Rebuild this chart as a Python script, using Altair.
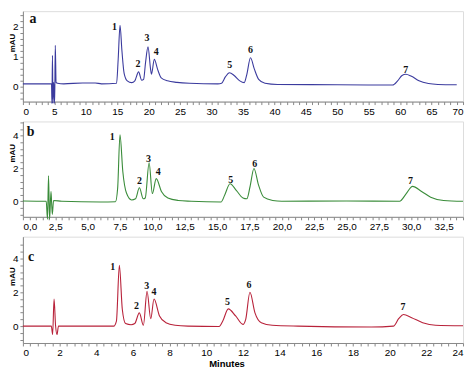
import altair as alt
import pandas as pd

# ---------------- data ----------------
# Panel a (blue), minutes / mAU
a_t = [0, 4.0, 4.55, 4.62, 4.7, 4.78, 4.9, 5.05, 5.15, 5.28, 5.5, 6.5, 9.5, 11.5, 12.5,
       14.9, 15.15, 15.45, 15.75, 16.1, 16.6, 17.3, 17.8, 18.4, 18.9, 19.2, 19.5, 19.9,
       20.3, 20.45, 20.9, 21.4, 22.0, 23.0, 24.5, 26.5, 31.0, 31.6, 32.2, 32.85, 33.6,
       34.5, 35.2, 35.6, 36.2, 36.8, 37.5, 38.5, 40.5, 50, 58.8, 59.6, 60.3, 60.9, 61.8,
       63.0, 64.5, 66.0, 69.0]
a_v = [0.1, 0.1, 0.1, -0.55, 1.05, -0.55, 0.15, -0.55, 1.38, 0.15, 0.12, 0.1, 0.13, 0.13, 0.1,
       0.12, 0.9, 2.05, 1.2, 0.45, 0.2, 0.14, 0.2, 0.5, 0.22, 0.25, 0.8, 1.33,
       0.6, 0.42, 0.92, 0.6, 0.3, 0.2, 0.15, 0.12, 0.1, 0.12, 0.33, 0.47, 0.38,
       0.2, 0.14, 0.4, 0.97, 0.6, 0.25, 0.12, 0.08, 0.07, 0.06, 0.2, 0.38, 0.42, 0.35,
       0.2, 0.11, 0.08, 0.07]

# Panel b (green)
b_t = [0, 1.8, 1.9, 1.98, 2.06, 2.17, 2.27, 2.37, 3.0, 6.0, 7.15, 7.32, 7.5, 7.72, 8.0,
       8.4, 8.7, 9.0, 9.3, 9.45, 9.75, 10.0, 10.3, 10.7, 11.2, 12.0, 13.0, 15.3, 15.6,
       16.0, 16.5, 17.0, 17.3, 17.55, 17.85, 18.2, 18.6, 19.3, 20.0, 25.0, 29.1, 29.6,
       30.1, 30.8, 31.5, 32.5, 34.0]
b_v = [0.02, 0.0, -1.1, 1.55, -1.1, 0.6, -0.8, 0.05, 0.0, -0.05, -0.03, 0.8, 4.05, 1.8, 0.5,
       0.08, 0.15, 0.82, 0.15, 0.2, 2.35, 0.47, 1.38, 0.6, 0.2, 0.05, 0.0, -0.05, 0.4,
       1.07, 0.65, 0.2, 0.15, 0.9, 2.0, 1.0, 0.25, 0.05, 0.0, 0.02, 0.0, 0.45,
       0.91, 0.6, 0.25, 0.05, 0.0]

# Panel c (red)
c_t = [0, 1.55, 1.62, 1.7, 1.78, 1.86, 1.94, 3.0, 4.95, 5.1, 5.26, 5.42, 5.6, 5.9, 6.1,
       6.35, 6.57, 6.77, 6.97, 7.15, 7.45, 7.8, 8.3, 9.0, 10.7, 10.9, 11.2, 11.6, 12.0,
       12.15, 12.38, 12.65, 13.0, 13.6, 15.0, 19.0, 20.2, 20.5, 20.75, 21.2, 21.8, 22.5, 24.0]
c_v = [0.0, 0.0, -0.5, 1.6, 0.05, -0.5, 0.0, 0.0, 0.0, 0.3, 3.6, 1.0, 0.15, 0.08, 0.15,
       0.78, 0.05, 2.06, 0.43, 1.6, 0.6, 0.2, 0.05, 0.0, -0.02, 0.3, 1.02, 0.6, 0.1,
       0.4, 2.0, 0.8, 0.2, 0.05, 0.0, -0.05, 0.0, 0.45, 0.69, 0.5, 0.2, 0.05, 0.02]

# Peak numbers
peak_names = ["1", "2", "3", "4", "5", "6", "7"]
a_lab_t = [14.55, 18.3, 19.75, 21.2, 32.9, 36.2, 60.9]
a_lab_v = [2.0, 0.75, 1.63, 1.17, 0.74, 1.23, 0.57]
b_lab_t = [6.9, 9.0, 9.7, 10.45, 16.05, 17.9, 29.95]
b_lab_v = [3.9, 1.23, 2.57, 1.8, 1.29, 2.29, 1.23]
c_lab_t = [4.9, 6.2, 6.75, 7.15, 11.15, 12.33, 20.73]
c_lab_v = [3.49, 1.18, 2.4, 2.0, 1.43, 2.45, 1.12]

# Panel letters
letters = ["a", "b", "c"]
letter_t = [1.6, 0.6, 0.45]
letter_v = [2.25, 4.2, 4.1]

# Axis tick positions (major ones labelled)
a_xticks = list(range(0, 71))
b_xticks = [i * 0.5 for i in range(0, 69)]
c_xticks = [round(i * 0.4, 1) for i in range(0, 61)]
a_yticks = [round(-0.4 + i * 0.2, 1) for i in range(0, 15)]
bc_yticks = [round(-0.8 + i * 0.4, 1) for i in range(0, 15)]

W = 443


def major(step):
    return f"abs(datum.value - round(datum.value/{step})*{step}) < 0.001"


def panel(t, v, color, xdom, ydom, height, xticks, xstep, xfmt, yticks, ystep,
          lab_t, lab_v, letter, lt, lv, title_y, xtitle=None):
    line_df = pd.DataFrame({"t": t, "v": v, "kind": "line", "s": ""})
    lab_df = pd.DataFrame({"t": lab_t, "v": lab_v, "kind": "peak", "s": peak_names})
    let_df = pd.DataFrame({"t": [lt], "v": [lv], "kind": "letter", "s": [letter]})
    df = pd.concat([line_df, lab_df, let_df], ignore_index=True)

    xaxis_kwargs = dict(
        values=xticks,
        labelExpr=f"{major(xstep)} ? {xfmt} : ''",
        tickSize=3,
        labelOverlap=False,
        grid=False,
    )
    if xtitle:
        xaxis_kwargs.update(title=xtitle, titleX=205, titleY=24, titleAlign="center",
                            titleBaseline="alphabetic", titleFontSize=9.5,
                            titleFontWeight="bold")
    else:
        xaxis_kwargs.update(title=None)

    xs = alt.X("t:Q", scale=alt.Scale(domain=xdom, nice=False, zero=False),
               axis=alt.Axis(**xaxis_kwargs))
    ys = alt.Y("v:Q", scale=alt.Scale(domain=ydom, nice=False, zero=False),
               axis=alt.Axis(values=yticks,
                             labelExpr=f"{major(ystep)} ? format(datum.value, 'd') : ''",
                             tickSize=3,
                             labelOverlap=False, grid=False,
                             title="mAU", titleAngle=270, titleX=-6, titleY=title_y,
                             titleAlign="center", titleBaseline="bottom",
                             titleFontSize=8, titleFontWeight="bold"))

    base = alt.Chart(df).encode(x=xs, y=ys)
    line = base.transform_filter("datum.kind == 'line'").mark_line(
        color=color, strokeWidth=1.1, interpolate="monotone")
    txt = base.transform_filter("datum.kind == 'peak'").mark_text(
        font="Liberation Serif", fontWeight="bold", fontSize=10,
        color="#111", baseline="middle", align="center").encode(text="s:N")
    lt_mark = base.transform_filter("datum.kind == 'letter'").mark_text(
        font="Liberation Serif", fontWeight="bold", fontSize=14,
        color="#111", baseline="middle", align="center").encode(text="s:N")
    return alt.layer(line, txt, lt_mark).properties(width=W, height=height)


pa = panel(a_t, a_v, "#3b3b9e", [0, 70], [-0.49, 2.52], 91, a_xticks, 5,
           "format(datum.value, 'd')", a_yticks, 1,
           a_lab_t, a_lab_v, letters[0], letter_t[0], letter_v[0], 31.5)
pb = panel(b_t, b_v, "#3a8c3a", [0, 34], [-0.95, 4.87], 96, b_xticks, 2.5,
           "replace(format(datum.value, '.1f'), '.', ',')", bc_yticks, 2,
           b_lab_t, b_lab_v, letters[1], letter_t[1], letter_v[1], 31.5)
pc = panel(c_t, c_v, "#b8223a", [0, 24], [-1.0, 5.29], 107, c_xticks, 2,
           "format(datum.value, 'd')", bc_yticks, 2,
           c_lab_t, c_lab_v, letters[2], letter_t[2], letter_v[2], 39.7, xtitle="Minutes")

chart = alt.vconcat(pa, pb, pc, spacing=20, bounds="flush").configure_view(
    stroke="#8a8a8a", strokeWidth=1
).configure_axis(
    domainColor="#444", tickColor="#444", labelColor="#333",
    labelFont="Liberation Sans", labelFontSize=10.5, labelPadding=1,
    titleColor="#222", titleFont="Liberation Sans"
).configure(background="white", padding=0)

chart.save("out.html", embed_options={"renderer": "svg", "actions": False})
